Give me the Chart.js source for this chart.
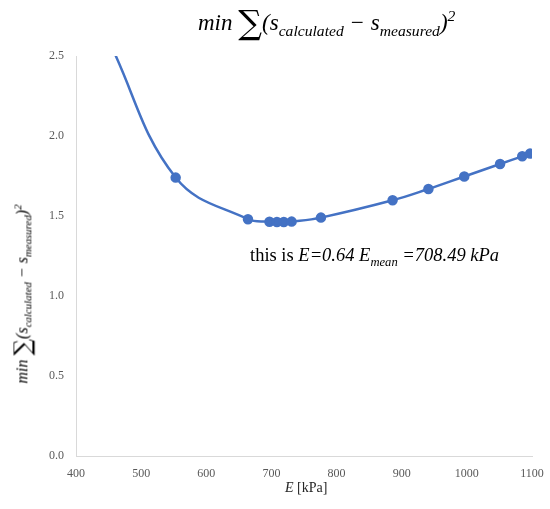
<!DOCTYPE html>
<html>
<head>
<meta charset="utf-8">
<script src="https://cdn.jsdelivr.net/npm/chart.js@4.4.1/dist/chart.umd.min.js"></script>
<style>
  html, body { margin: 0; padding: 0; background: #fff; }
  #wrap { position: relative; width: 550px; height: 509px; font-family: "Liberation Serif", serif; color: #000; }
  #chart { position: absolute; left: 0; top: 0; }
  .lbl { position: absolute; white-space: nowrap; line-height: 1; }
  .lbl i { font-style: italic; }
  .lbl sub, .lbl sup { font-size: 0.68em; line-height: 0; }
  .sig { font-family: "DejaVu Serif", serif; font-style: normal; font-size: 1.45em; vertical-align: -0.12em; }
  #title { left: 198px; top: 6px; font-size: 23px; font-style: italic; }
  #ytitle { left: 22px; top: 294px; font-size: 16px; font-style: italic; transform: translate(-50%, -50%) rotate(-90deg); }
  #note { left: 250px; top: 246px; font-size: 18.5px; }
  #xtitle { left: 285px; top: 481px; font-size: 14px; color: #262626; }
</style>
</head>
<body>
<div id="wrap">
  <canvas id="chart" width="550" height="509"></canvas>
  <div class="lbl" id="title">min <span class="sig">∑</span>(s<sub>calculated</sub> − s<sub>measured</sub>)<sup>2</sup></div>
  <div class="lbl" id="ytitle">min <span class="sig">∑</span>(s<sub>calculated</sub> − s<sub>measured</sub>)<sup>2</sup></div>
  <div class="lbl" id="note">this is <i>E=0.64 E<sub>mean</sub> =708.49 kPa</i></div>
  <div class="lbl" id="xtitle"><i>E</i> [kPa]</div>
</div>
<script>
// E in kPa and the squared-error sum
const eValues = [452, 553, 664, 697, 708.5, 719, 731, 776, 886, 941, 996, 1051, 1085, 1097];
const errValues = [2.58, 1.74, 1.48, 1.464, 1.462, 1.463, 1.465, 1.49, 1.598, 1.669, 1.747, 1.825, 1.873, 1.89];
const xTicks = [400, 500, 600, 700, 800, 900, 1000, 1100];
const yTicks = [0.0, 0.5, 1.0, 1.5, 2.0, 2.5];

const points = eValues.map((e, i) => ({ x: e, y: errValues[i] }));
const radii = eValues.map((e) => (e < xTicks[0] + 100 ? 0 : 4));

new Chart(document.getElementById("chart"), {
  type: "scatter",
  data: {
    datasets: [{
      data: points,
      showLine: true,
      borderColor: "#4472C4",
      backgroundColor: "#4472C4",
      borderWidth: 2.5,
      pointRadius: radii,
      pointHoverRadius: radii,
      tension: 0.4
    }]
  },
  options: {
    responsive: false,
    animation: false,
    devicePixelRatio: 1,
    layout: { padding: { top: 56, right: 18, bottom: 0, left: 0 } },
    plugins: { legend: { display: false }, tooltip: { enabled: false } },
    scales: {
      x: {
        type: "linear",
        min: xTicks[0],
        max: xTicks[xTicks.length - 1],
        afterBuildTicks: (s) => { s.ticks = xTicks.map((v) => ({ value: v })); },
        afterFit: (s) => { s.height = 53; },
        grid: { display: false },
        border: { display: true, color: "#d9d9d9", width: 1 },
        ticks: { padding: 3, color: "#595959", font: { family: "Liberation Serif", size: 12 }, callback: (v) => String(v) }
      },
      y: {
        min: yTicks[0],
        max: yTicks[yTicks.length - 1],
        afterBuildTicks: (s) => { s.ticks = yTicks.map((v) => ({ value: v })); },
        afterFit: (s) => { s.width = 76; },
        grid: { display: false },
        border: { display: true, color: "#d9d9d9", width: 1 },
        ticks: { padding: 4, color: "#595959", font: { family: "Liberation Serif", size: 12 }, callback: (v) => Number(v).toFixed(1) }
      }
    }
  }
});
</script>
</body>
</html>
